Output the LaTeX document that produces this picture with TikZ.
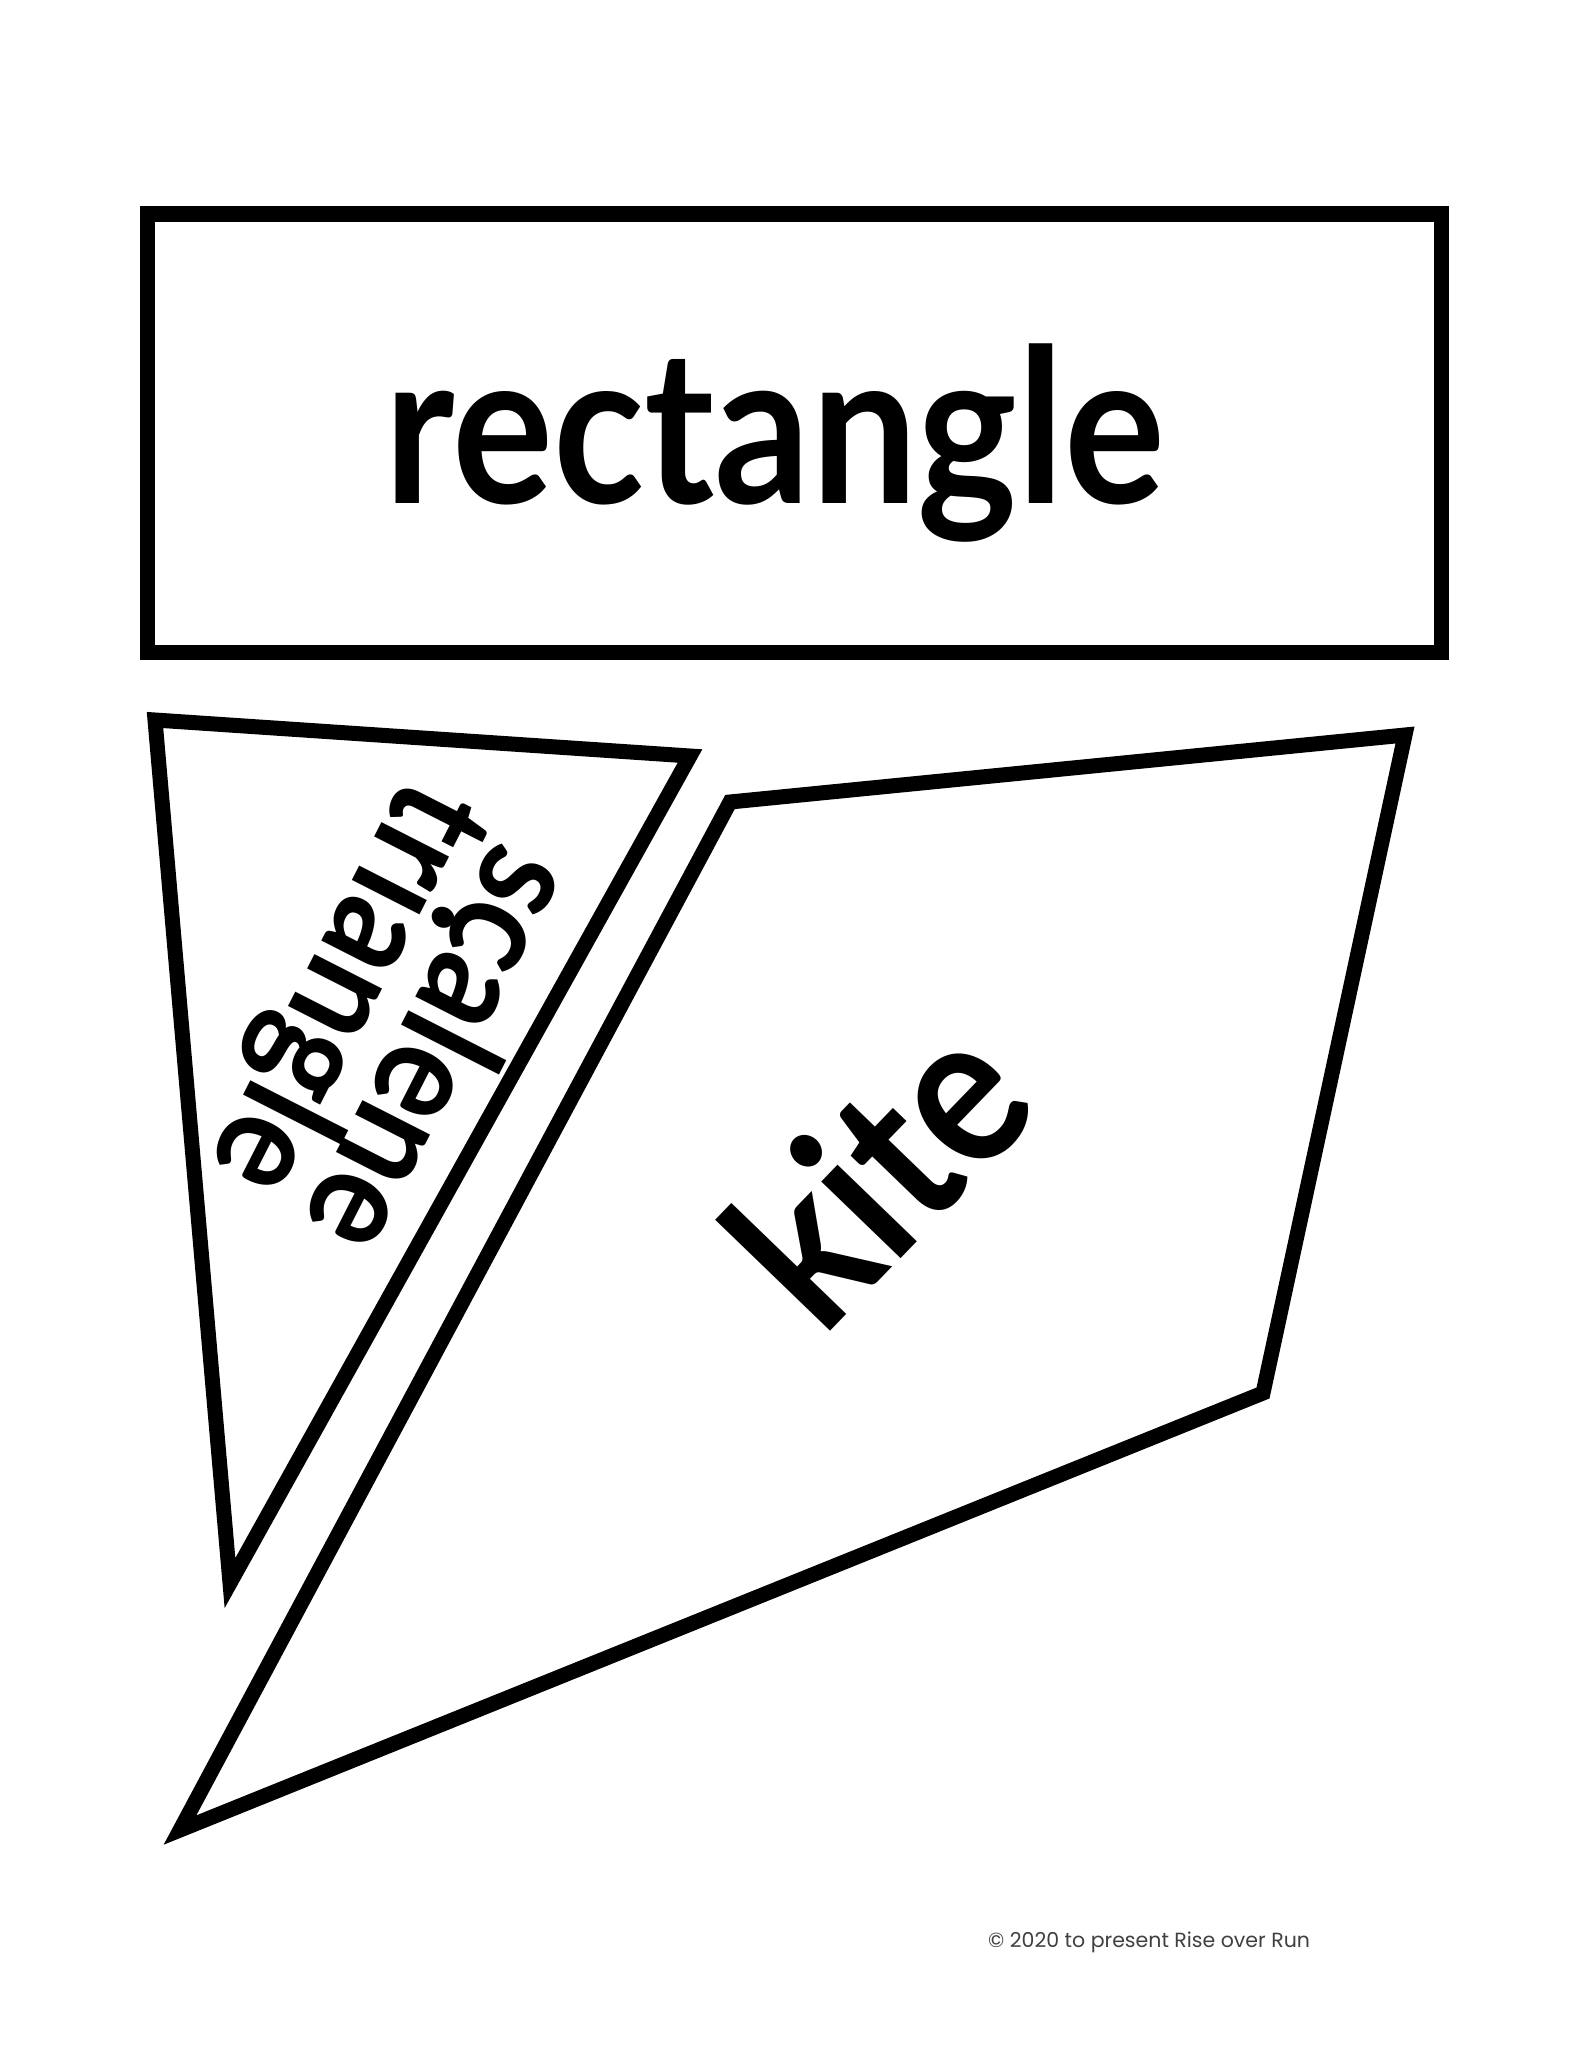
\documentclass[tikz,border=0pt]{standalone}
\usepackage{fontspec}
\setmainfont{Lato}
\newfontfamily\notefont{Poppins}
\newcommand{\narrowword}[1]{\scalebox{0.88}[1]{#1}}
\begin{document}
\begin{tikzpicture}[x=1pt,y=-1pt,
  shapeline/.style={draw=black,line width=15pt,line join=miter},
  bigword/.style={font=\fontsize{215}{250}\selectfont\bfseries,inner sep=0pt},
  midword/.style={font=\fontsize{148}{170}\selectfont\bfseries,inner sep=0pt},
  smallnote/.style={font=\notefont\fontsize{20.5}{24}\selectfont,text=black!75,inner sep=0pt}]
\useasboundingbox (0,0) rectangle (1588,2055);
\fill[white] (0,0) rectangle (1588,2055);
% rectangle
\draw[shapeline] (147.5,214) rectangle (1441,652);
\node[bigword,anchor=base] (rectword) at (775,503) {\narrowword{rectangle}};
% scalene triangle
\draw[shapeline] (155,720) -- (690,756) -- (230,1583) -- cycle;
\node[midword,anchor=base west,rotate=-117] (scalword) at (497,837) {\narrowword{scalene}};
\node[midword,anchor=base west,rotate=-117] (triword) at (408,772) {\narrowword{triangle}};
% kite
\draw[shapeline] (730,802) -- (1405,735) -- (1263,1393) -- (180,1830) -- cycle;
\node[bigword,anchor=base west,rotate=46] (kiteword) at (822,1340) {\narrowword{kite}};
% copyright
\node[smallnote,anchor=base west] (copy) at (988,1947) {© 2020 to present Rise over Run};
\end{tikzpicture}
\end{document}
